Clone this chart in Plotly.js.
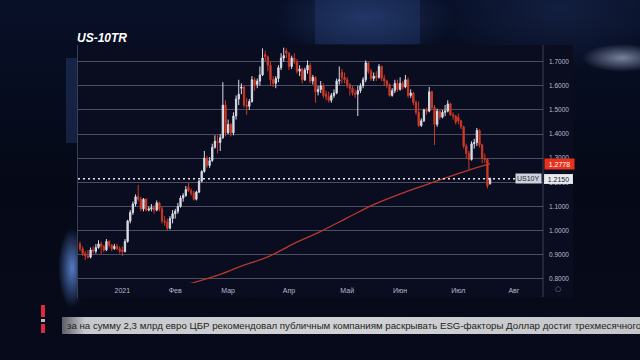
<!DOCTYPE html>
<html>
<head>
<meta charset="utf-8">
<script src="https://cdn.plot.ly/plotly-3.0.1.min.js"></script>
<style>
  html, body { margin:0; padding:0; width:640px; height:360px; overflow:hidden; background:#050917; }
  #bg { position:absolute; left:0; top:0; width:640px; height:360px;
    background:
      radial-gradient(ellipse 14px 40px at 72px 268px, rgba(110,160,255,0.75), rgba(110,160,255,0) 100%),
      radial-gradient(ellipse 40px 14px at 622px 58px, rgba(210,225,255,0.55), rgba(210,225,255,0) 100%),
      radial-gradient(ellipse 90px 40px at 365px 18px, rgba(55,85,150,0.45), rgba(55,85,150,0) 100%),
      radial-gradient(ellipse 120px 60px at 560px 10px, rgba(40,60,110,0.35), rgba(40,60,110,0) 100%),
      linear-gradient(180deg, #081028 0%, #050917 50%, #060a1a 100%);
  }
  #topbox { position:absolute; left:315px; top:0; width:105px; height:44px; background:rgba(45,75,140,0.28); }
  #leftbits { position:absolute; left:66px; top:58px; width:11px; height:85px; background:rgba(60,95,160,0.28); }
  #panel { position:absolute; left:77px; top:45px; width:496px; height:253px; background:#0a0c20;
    border-left:1px solid rgba(150,160,190,0.35); box-sizing:border-box; }
  #chart { position:absolute; left:0; top:0; width:640px; height:360px; }
  #ticker { position:absolute; left:62px; top:317px; width:578px; height:17px;
    background:linear-gradient(90deg, rgba(150,150,155,0.6) 0%, #c8c9cc 4%, #d1d2d4 50%, #c4c5c8 100%);
    overflow:hidden; white-space:nowrap; }
  #ticker span { position:absolute; left:5px; top:1px; font-family:"Liberation Sans", Arial, sans-serif;
    font-size:9.7px; color:#1e1e22; line-height:15px; }
  #logo1 { position:absolute; left:41px; top:305px; width:4px; height:12px; background:#e0283c; }
  #logo2 { position:absolute; left:41px; top:319px; width:4px; height:3px; background:#b8b8c8; }
  #logo3 { position:absolute; left:41px; top:324px; width:4px; height:9px; background:#e0283c; }
</style>
</head>
<body>
<div id="bg"></div>
<div id="topbox"></div>
<div id="leftbits"></div>
<div id="panel"></div>
<div id="logo1"></div><div id="logo2"></div><div id="logo3"></div>
<div id="ticker"><span>за на сумму 2,3 млрд евро ЦБР рекомендовал публичным компаниям раскрывать ESG-факторы Доллар достиг трехмесячного</span></div>
<div id="chart"></div>
<script>
// ---- data ----
const dates = [
 '2020-12-09','2020-12-10','2020-12-11','2020-12-14','2020-12-15','2020-12-16','2020-12-17','2020-12-18','2020-12-21','2020-12-22','2020-12-23','2020-12-24','2020-12-28','2020-12-29','2020-12-30','2020-12-31',
 '2021-01-04','2021-01-05','2021-01-06','2021-01-07','2021-01-08','2021-01-11','2021-01-12','2021-01-13','2021-01-14','2021-01-15','2021-01-18','2021-01-19','2021-01-20','2021-01-21','2021-01-22','2021-01-25','2021-01-26','2021-01-27','2021-01-28','2021-01-29',
 '2021-02-01','2021-02-02','2021-02-03','2021-02-04','2021-02-05','2021-02-08','2021-02-09','2021-02-10','2021-02-11','2021-02-12','2021-02-15','2021-02-16','2021-02-17','2021-02-18','2021-02-19','2021-02-22','2021-02-23','2021-02-24','2021-02-25','2021-02-26',
 '2021-03-01','2021-03-02','2021-03-03','2021-03-04','2021-03-05','2021-03-08','2021-03-09','2021-03-10','2021-03-11','2021-03-12','2021-03-15','2021-03-16','2021-03-17','2021-03-18','2021-03-19','2021-03-22','2021-03-23','2021-03-24','2021-03-25','2021-03-26','2021-03-29','2021-03-30','2021-03-31',
 '2021-04-01','2021-04-02','2021-04-05','2021-04-06','2021-04-07','2021-04-08','2021-04-09','2021-04-12','2021-04-13','2021-04-14','2021-04-15','2021-04-16','2021-04-19','2021-04-20','2021-04-21','2021-04-22','2021-04-23','2021-04-26','2021-04-27','2021-04-28','2021-04-29','2021-04-30',
 '2021-05-03','2021-05-04','2021-05-05','2021-05-06','2021-05-07','2021-05-10','2021-05-11','2021-05-12','2021-05-13','2021-05-14','2021-05-17','2021-05-18','2021-05-19','2021-05-20','2021-05-21','2021-05-24','2021-05-25','2021-05-26','2021-05-27','2021-05-28',
 '2021-06-01','2021-06-02','2021-06-03','2021-06-04','2021-06-07','2021-06-08','2021-06-09','2021-06-10','2021-06-11','2021-06-14','2021-06-15','2021-06-16','2021-06-17','2021-06-18','2021-06-21','2021-06-22','2021-06-23','2021-06-24','2021-06-25','2021-06-28','2021-06-29','2021-06-30',
 '2021-07-01','2021-07-02','2021-07-06','2021-07-07','2021-07-08','2021-07-09','2021-07-12','2021-07-13','2021-07-14','2021-07-15','2021-07-16','2021-07-19','2021-07-20'
];
const openV = [
 .945,.925,.905,.895,.890,.920,.915,.930,.945,.935,.920,.955,.940,.925,.935,.925,
 .920,.913,.955,1.040,1.075,1.110,1.140,1.130,1.090,1.130,1.085,1.090,1.095,1.085,1.115,1.090,1.040,1.035,1.010,1.050,
 1.070,1.080,1.100,1.135,1.145,1.180,1.165,1.155,1.130,1.160,1.205,1.245,1.300,1.270,1.290,1.345,1.370,1.365,1.385,1.520,
 1.405,1.440,1.405,1.475,1.545,1.590,1.595,1.520,1.515,1.535,1.625,1.605,1.620,1.645,1.730,1.720,1.685,1.625,1.610,1.630,1.675,1.715,1.745,
 1.735,1.680,1.715,1.700,1.660,1.670,1.625,1.665,1.685,1.620,1.635,1.575,1.585,1.600,1.565,1.555,1.540,1.560,1.570,1.620,1.655,1.635,
 1.625,1.605,1.590,1.570,1.565,1.580,1.600,1.625,1.695,1.660,1.630,1.640,1.635,1.680,1.630,1.620,1.605,1.560,1.580,1.610,
 1.585,1.610,1.595,1.625,1.560,1.570,1.530,1.490,1.435,1.455,1.500,1.495,1.575,1.510,1.440,1.495,1.470,1.490,1.495,1.525,1.480,1.475,
 1.470,1.455,1.430,1.350,1.320,1.295,1.360,1.365,1.415,1.355,1.300,1.295,1.195
];
const highV = [
 .955,.935,.915,.920,.930,.935,.945,.960,.955,.940,.965,.960,.945,.945,.945,.935,
 .935,.965,1.045,1.085,1.120,1.150,1.190,1.140,1.135,1.135,1.100,1.110,1.105,1.125,1.120,1.100,1.060,1.050,1.060,1.085,
 1.090,1.115,1.145,1.155,1.185,1.200,1.175,1.165,1.165,1.210,1.250,1.330,1.310,1.305,1.360,1.395,1.395,1.400,1.615,1.540,
 1.460,1.445,1.490,1.560,1.625,1.610,1.600,1.550,1.545,1.640,1.635,1.630,1.680,1.755,1.745,1.725,1.700,1.640,1.640,1.685,1.735,1.758,1.755,
 1.740,1.725,1.735,1.710,1.685,1.675,1.675,1.705,1.695,1.645,1.640,1.600,1.620,1.610,1.580,1.575,1.570,1.585,1.630,1.680,1.670,1.655,
 1.635,1.610,1.600,1.585,1.600,1.610,1.635,1.705,1.700,1.670,1.655,1.660,1.690,1.685,1.645,1.625,1.610,1.590,1.625,1.625,
 1.635,1.620,1.645,1.635,1.585,1.575,1.540,1.535,1.465,1.505,1.510,1.595,1.580,1.520,1.505,1.500,1.500,1.520,1.540,1.530,1.490,1.480,
 1.485,1.460,1.435,1.360,1.330,1.370,1.380,1.425,1.420,1.360,1.320,1.300,1.220
];
const lowV = [
 .915,.895,.878,.885,.885,.905,.905,.925,.900,.910,.915,.930,.915,.920,.920,.905,
 .895,.910,.950,1.030,1.065,1.100,1.120,1.080,1.080,1.080,1.080,1.080,1.070,1.080,1.080,1.030,1.020,1.000,1.005,1.030,
 1.050,1.070,1.095,1.120,1.140,1.160,1.145,1.125,1.125,1.155,1.200,1.240,1.260,1.260,1.285,1.340,1.320,1.330,1.380,1.390,
 1.400,1.390,1.395,1.460,1.520,1.565,1.510,1.480,1.500,1.530,1.580,1.590,1.600,1.640,1.700,1.660,1.600,1.595,1.590,1.615,1.665,1.700,1.715,
 1.665,1.670,1.690,1.650,1.640,1.610,1.620,1.650,1.610,1.605,1.530,1.560,1.570,1.550,1.540,1.530,1.530,1.550,1.565,1.605,1.610,1.610,
 1.590,1.560,1.560,1.550,1.475,1.570,1.590,1.615,1.650,1.620,1.620,1.620,1.630,1.620,1.600,1.590,1.555,1.555,1.570,1.575,
 1.580,1.585,1.590,1.550,1.550,1.520,1.480,1.430,1.430,1.450,1.480,1.490,1.500,1.355,1.430,1.460,1.465,1.475,1.490,1.475,1.460,1.440,
 1.440,1.420,1.340,1.300,1.255,1.290,1.340,1.350,1.345,1.280,1.280,1.175,1.190
];
const closeV = [
 .925,.905,.895,.890,.920,.915,.930,.945,.935,.920,.955,.940,.925,.935,.925,.915,
 .913,.955,1.040,1.075,1.110,1.140,1.130,1.090,1.130,1.085,1.090,1.095,1.085,1.115,1.090,1.040,1.035,1.010,1.050,1.070,
 1.080,1.100,1.135,1.145,1.170,1.165,1.155,1.130,1.160,1.205,1.245,1.300,1.270,1.290,1.345,1.370,1.365,1.385,1.520,1.405,
 1.440,1.405,1.475,1.545,1.565,1.595,1.520,1.515,1.535,1.625,1.605,1.620,1.645,1.715,1.720,1.685,1.625,1.610,1.630,1.675,1.715,1.725,1.735,
 1.680,1.715,1.700,1.660,1.670,1.625,1.665,1.685,1.620,1.635,1.575,1.585,1.600,1.560,1.555,1.540,1.560,1.570,1.620,1.625,1.635,1.625,
 1.605,1.590,1.570,1.565,1.580,1.600,1.625,1.695,1.660,1.630,1.640,1.635,1.680,1.630,1.620,1.605,1.560,1.580,1.610,1.585,
 1.610,1.595,1.625,1.560,1.570,1.530,1.490,1.435,1.455,1.500,1.495,1.575,1.510,1.440,1.495,1.470,1.490,1.495,1.525,1.480,1.475,1.450,
 1.455,1.430,1.350,1.320,1.295,1.360,1.365,1.415,1.355,1.300,1.295,1.185,1.215
];
// moving average (red line)
const maDates = ['2020-12-09','2021-01-04','2021-01-25','2021-02-10','2021-02-24','2021-03-08','2021-03-22','2021-04-05','2021-04-19','2021-05-03','2021-05-17','2021-06-01','2021-06-15','2021-06-29','2021-07-12','2021-07-20'];
const maValues = [0.67, 0.71, 0.752, 0.785, 0.819, 0.853, 0.891, 0.947, 0.997, 1.053, 1.108, 1.152, 1.191, 1.229, 1.258, 1.2778];
// axis ticks
const monthTickDates = ['2021-01-04','2021-02-01','2021-03-01','2021-04-01','2021-05-03','2021-06-01','2021-07-01','2021-08-02'];
const monthTickLabels = ['2021','Фев','Мар','Апр','Май','Июн','Июл','Авг'];
const lastPrice = 1.2150;
const maLast = 1.2778;
const symbol = 'US10Y';
const chartTitle = 'US-10TR';

// ---- layout helpers (pixel -> paper) ----
const L = 78, R = 543, T = 45, B = 283;
const fx = px => (px - L) / (R - L);
const fy = py => (B - py) / (B - T);

const traces = [
  {
    type: 'candlestick', x: dates, open: openV, high: highV, low: lowV, close: closeV,
    increasing: { line: { color: '#d9dce6', width: 1 }, fillcolor: '#d9dce6' },
    decreasing: { line: { color: '#cc3a26', width: 1 }, fillcolor: '#cc3a26' },
    whiskerwidth: 0, hoverinfo: 'skip'
  },
  {
    type: 'scatter', mode: 'lines', x: maDates, y: maValues,
    line: { color: '#b8392c', width: 1.3, shape: 'spline', smoothing: 1.0 }, hoverinfo: 'skip'
  }
];

const tagFont = { family: 'Liberation Sans, Arial, sans-serif', size: 7 };
const layout = {
  width: 640, height: 360,
  margin: { l: L, r: 640 - R, t: T, b: 360 - B, pad: 0 },
  paper_bgcolor: 'rgba(0,0,0,0)', plot_bgcolor: 'rgba(0,0,0,0)',
  showlegend: false, hovermode: false,
  xaxis: {
    type: 'date',
    range: ['2020-12-08 06:00', '2021-08-17'],
    rangebreaks: [ { bounds: ['sat', 'mon'] }, { values: ['2020-12-25', '2021-01-01', '2021-05-31', '2021-07-05'] } ],
    rangeslider: { visible: false },
    showgrid: false, zeroline: false, showline: false, ticks: '',
    tickmode: 'array', tickvals: monthTickDates, ticktext: monthTickLabels,
    tickfont: { family: 'Liberation Sans, Arial, sans-serif', size: 7, color: '#b8bccb' },
    ticklabelstandoff: 2
  },
  yaxis: {
    side: 'right', range: [0.783, 1.769], tick0: 0.8, dtick: 0.1, tickformat: '.4f',
    showgrid: true, gridcolor: 'rgba(185,190,210,0.38)', gridwidth: 1,
    zeroline: false, showline: false, ticks: '', ticklabelstandoff: 5,
    tickfont: { family: 'Liberation Sans, Arial, sans-serif', size: 6.5, color: '#b8bccb' }
  },
  shapes: [
    { type: 'line', xref: 'paper', yref: 'y', x0: 0, x1: 1, y0: lastPrice, y1: lastPrice,
      line: { color: '#e8eaf2', width: 1.5, dash: '2px,3px' } },
    { type: 'line', xref: 'paper', yref: 'paper', x0: 1, x1: 1, y0: fy(297), y1: 1,
      line: { color: 'rgba(150,160,190,0.35)', width: 1 } }
  ],
  annotations: [
    { xref: 'paper', yref: 'paper', x: fx(75), y: fy(38), xanchor: 'left', yanchor: 'middle',
      text: '<b><i>' + chartTitle + '</i></b>', showarrow: false,
      font: { family: 'Liberation Sans, Arial, sans-serif', size: 12, color: '#ffffff' } },
    { xref: 'paper', yref: 'y', x: 1, y: lastPrice, xanchor: 'right', yanchor: 'middle', xshift: -1,
      text: symbol, showarrow: false, bgcolor: '#cdd1dc', borderpad: 1,
      font: Object.assign({ color: '#1c1f2e' }, tagFont) },
    { xref: 'paper', yref: 'y', x: 1, y: lastPrice, xanchor: 'left', yanchor: 'middle', xshift: 1,
      text: lastPrice.toFixed(4), showarrow: false, bgcolor: '#e9ebf1', bordercolor: '#ffffff', borderwidth: 0.5, borderpad: 1,
      width: 26, font: Object.assign({ color: '#15171f' }, tagFont) },
    { xref: 'paper', yref: 'y', x: 1, y: maLast, xanchor: 'left', yanchor: 'middle', xshift: 1,
      text: maLast.toFixed(4), showarrow: false, bgcolor: '#e8321e', borderpad: 1.5,
      width: 26, font: Object.assign({ color: '#ffffff' }, tagFont) },
    { xref: 'paper', yref: 'paper', x: fx(558), y: fy(289), xanchor: 'center', yanchor: 'middle',
      text: '○', showarrow: false, font: { family: 'DejaVu Sans', size: 7, color: '#8a90a4' } }
  ]
};

Plotly.newPlot('chart', traces, layout, { staticPlot: true, displayModeBar: false });
</script>
</body>
</html>
